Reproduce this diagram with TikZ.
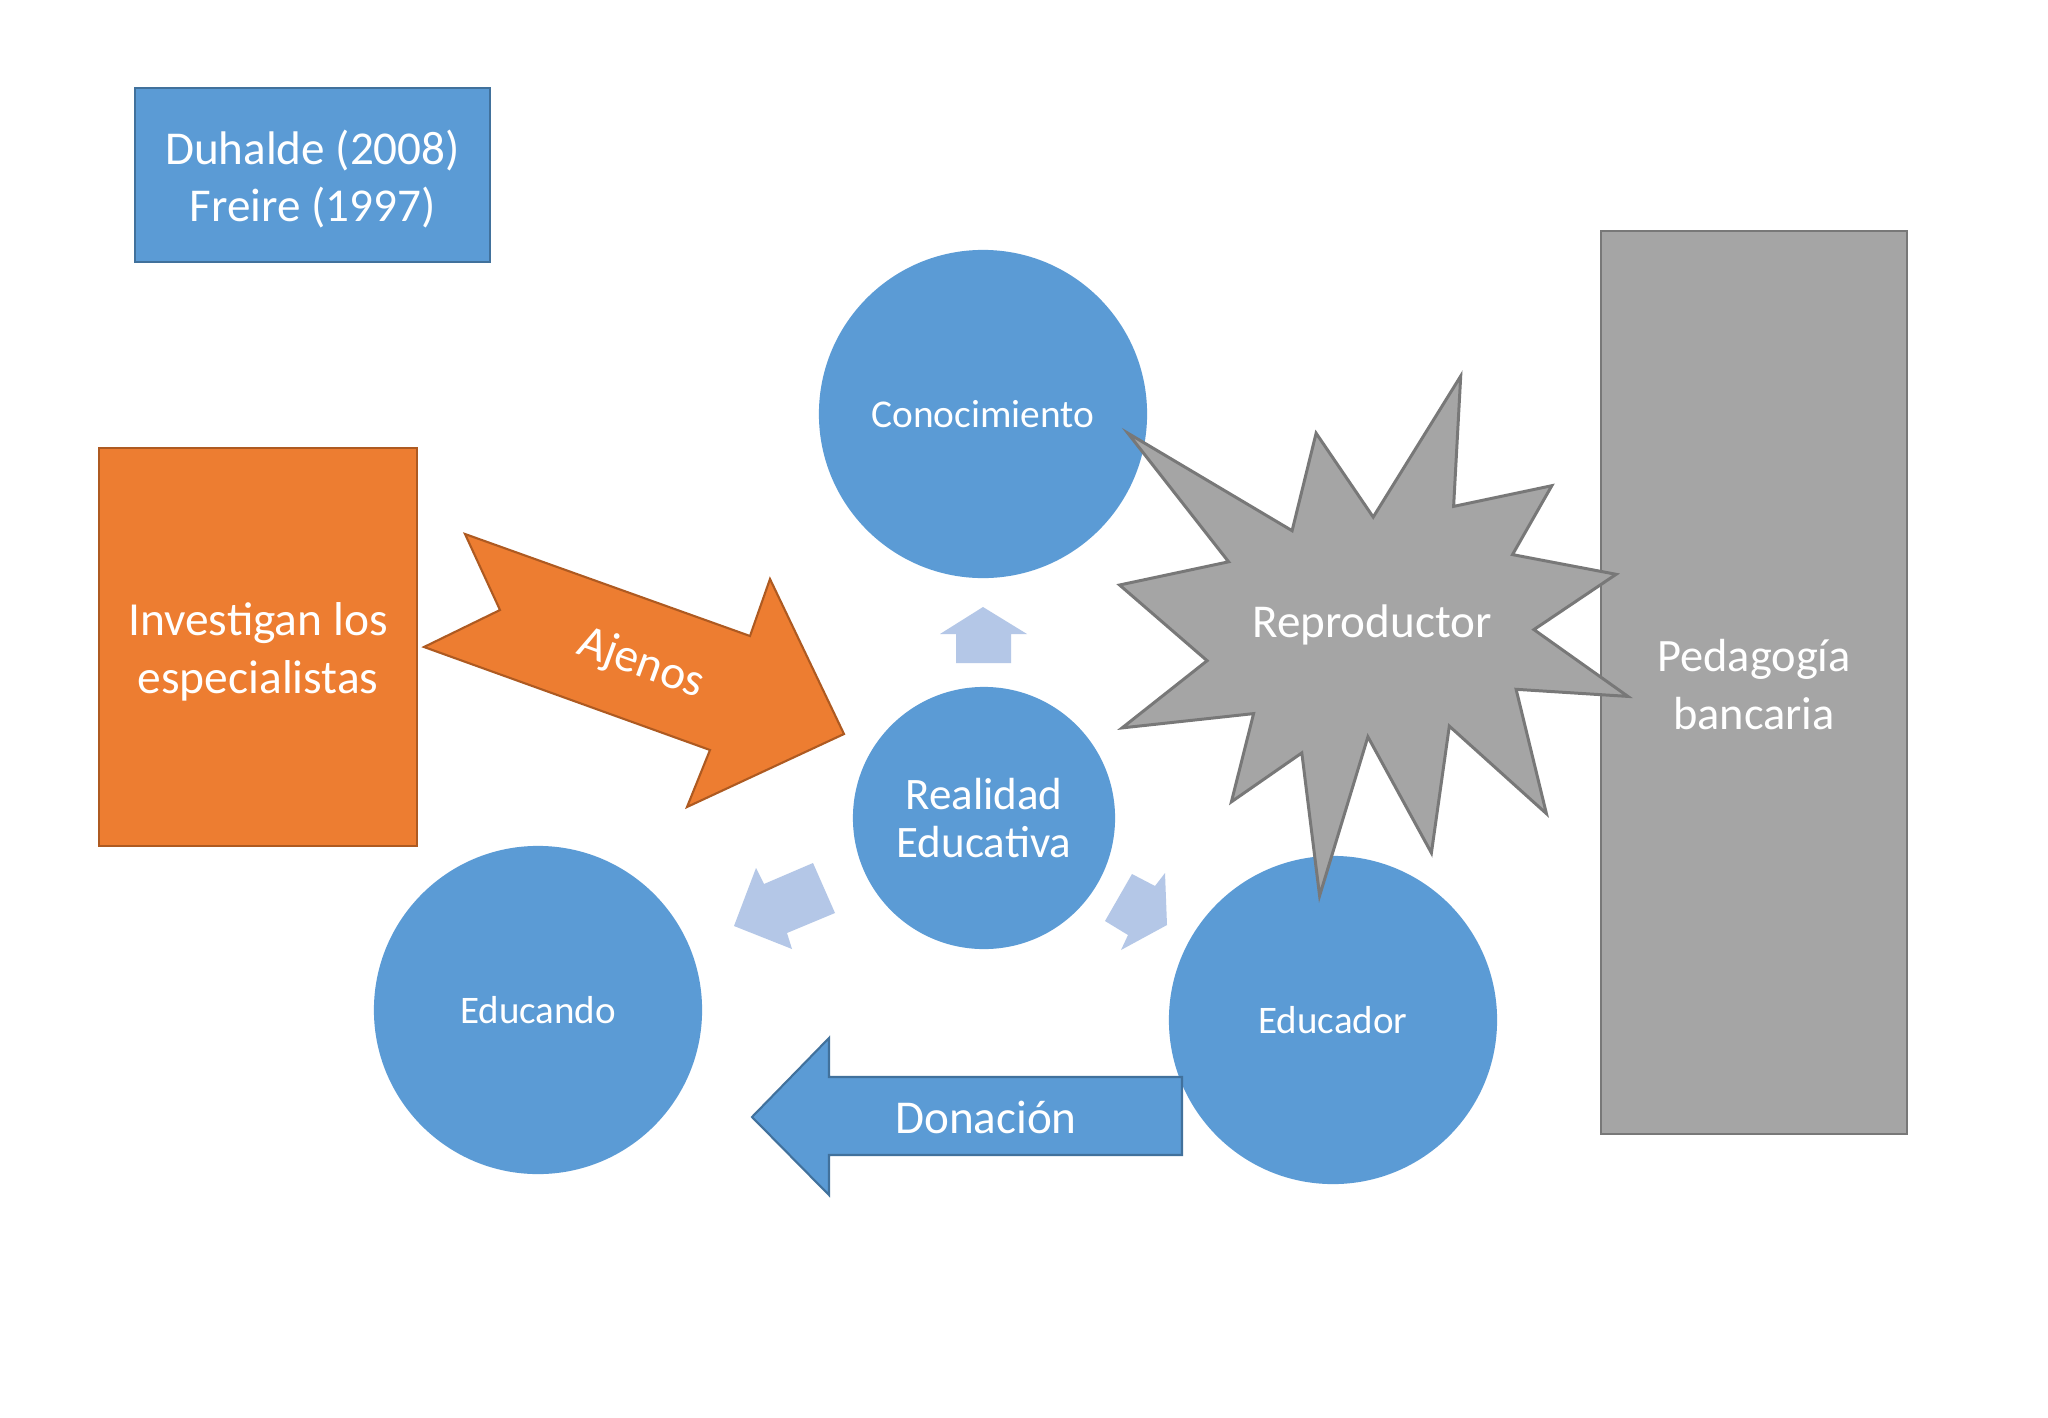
\documentclass[tikz,border=0pt]{standalone}
\usepackage{fontspec}
\setmainfont{Carlito}
\definecolor{bfill}{RGB}{91,155,213}
\definecolor{bline}{RGB}{65,113,156}
\definecolor{ofill}{RGB}{237,125,49}
\definecolor{oline}{RGB}{174,90,33}
\definecolor{gfill}{RGB}{165,165,165}
\definecolor{gline}{RGB}{120,120,120}
\definecolor{lblue}{RGB}{180,199,231}
\newcommand{\fsz}[2]{\fontsize{#1}{#2}\selectfont}
\begin{document}
\begin{tikzpicture}[x=0.01cm,y=-0.01cm,
  box/.style={draw, line width=0.6pt, inner sep=0pt, align=center, text=white},
  bcirc/.style={circle, fill=bfill, inner sep=0pt, align=center, text=white},
  shapetext/.style={inner sep=0pt, align=center, text=white},
  lightarrow/.style={fill=lblue, draw=none}
]
\fill[white] (0,0) rectangle (2048,1418);
\useasboundingbox (0,0) rectangle (2048,1418);

% rectangles
\node[box, fill=bfill, draw=bline, minimum width=3.55cm, minimum height=1.74cm] (ref) at (312.5,175) {};
\node[shapetext, font=\fsz{13.4}{16.4}] (reftext) at (312.5,179) {Duhalde (2008)\\Freire (1997)};
\node[box, fill=ofill, draw=oline, minimum width=3.17cm, minimum height=3.98cm] (inv) at (258,647) {};
\node[shapetext, font=\fsz{13.5}{16.4}] (invtext) at (258,652) {Investigan los\\especialistas};
\node[box, fill=gfill, draw=gline, minimum width=3.06cm, minimum height=9.03cm] (ped) at (1754,682.5) {};
\node[shapetext, font=\fsz{13.2}{16.4}] (pedtext) at (1754,684.5) {Pedagogía\\bancaria};

% circles
\node[bcirc, minimum size=3.28cm, font=\fsz{11.2}{13}] (con) at (983,414) {Conocimiento};
\node[bcirc, minimum size=2.62cm, font=\fsz{12.8}{13.6}] (rea) at (984,818) {Realidad\\Educativa};
\node[bcirc, minimum size=3.28cm, font=\fsz{11.1}{13}] (edo) at (538,1010) {Educando};
\node[bcirc, minimum size=3.28cm, font=\fsz{11.1}{13}] (edr) at (1333,1020) {Educador};

% light cycle arrows
\fill[lightarrow] (983,607) -- (1027,634) -- (1011,634) -- (1011,663) -- (956,663) -- (956,634) -- (940,634) -- cycle;
\fill[lightarrow] (734,926) -- (756,868) -- (764,884) -- (813,863) -- (835,913) -- (787,933) -- (792,949) -- cycle;
\fill[lightarrow] (1105,921) -- (1132,874) -- (1155,886) -- (1165,873) -- (1167,925) -- (1121,950) -- (1128,935) -- cycle;

% orange notched arrow
\filldraw[fill=ofill, draw=oline, line width=0.6pt, line join=miter]
  (465,534) -- (750,636) -- (770,579) -- (844,734) -- (687,807) -- (710,750) -- (424,647) -- (500,610) -- cycle;
\node[shapetext, rotate=-20, font=\fsz{13.5}{16}] (aje) at (641,664) {Ajenos};

% Donación arrow
\filldraw[fill=bfill, draw=bline, line width=0.6pt, line join=miter]
  (752,1117) -- (829,1038) -- (829,1077) -- (1182,1077) -- (1182,1155) -- (829,1155) -- (829,1195) -- cycle;
\node[shapetext, font=\fsz{13.4}{16}] (don) at (986,1117) {Donación};

% star
\filldraw[fill=gfill, draw=gline, line width=0.85pt, line join=miter]
  (1460.7,376.1) -- (1453.6,506.4) -- (1551.8,485.7) -- (1512.5,554.6) -- (1616.1,574.3) -- (1533.9,629.6)
  -- (1627.9,696.4) -- (1516.1,689.3) -- (1546.4,813.6) -- (1449.3,726.1) -- (1431.4,852.9) -- (1367.9,736.8)
  -- (1319.6,895.7) -- (1301.8,752.9) -- (1231.4,801.8) -- (1253.6,713.6) -- (1122.1,727.9) -- (1207.1,660.7)
  -- (1119.6,585) -- (1228.6,561.8) -- (1127.9,433.2) -- (1292.1,530.7) -- (1316.1,433.2) -- (1373.2,517.1) -- cycle;
\node[shapetext, font=\fsz{13.4}{16}] (rep) at (1372,625) {Reproductor};
\end{tikzpicture}
\end{document}
